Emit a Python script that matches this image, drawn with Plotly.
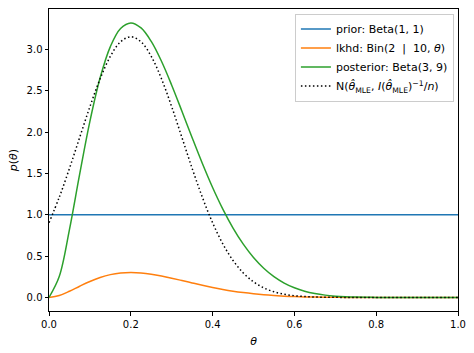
import plotly.graph_objects as go

theta = [round(i * 0.025, 3) for i in range(41)]

prior = [1.0] * 41

likelihood = [0.0, 0.02297, 0.07464, 0.13567, 0.19371, 0.24160, 0.27590, 0.29576, 0.30199,
              0.29645, 0.28157, 0.25974, 0.23347, 0.20482, 0.17565, 0.14734, 0.12093,
              0.09712, 0.07630, 0.05860, 0.04395, 0.03214, 0.02289, 0.01584, 0.01062,
              0.006874, 0.004281, 0.002552, 0.001447, 0.000774, 0.000386, 0.000178,
              0.0000737, 0.000027, 0.0000083, 0.000002, 0.0, 0.0, 0.0, 0.0, 0.0]

posterior = [0.0, 0.25266, 0.8210, 1.4923, 2.1308, 2.6576, 3.0349, 3.2533, 3.3219,
             3.2610, 3.0972, 2.8572, 2.5682, 2.2530, 1.9322, 1.6207, 1.3303,
             1.0684, 0.8393, 0.6446, 0.4834, 0.3536, 0.2518, 0.1742, 0.1168,
             0.07562, 0.04710, 0.02807, 0.01591, 0.00851, 0.00425, 0.00195,
             0.000811, 0.000296, 0.0000917, 0.0000226, 0.0, 0.0, 0.0, 0.0, 0.0]

normal_approx = [0.9036, 1.2111, 1.5613, 1.9356, 2.3074, 2.6455, 2.9169, 3.0929, 3.1539,
                 3.0929, 2.9169, 2.6455, 2.3074, 1.9356, 1.5613, 1.2111, 0.9036,
                 0.6483, 0.4473, 0.2968, 0.1894, 0.1162, 0.0686, 0.0389, 0.02125,
                 0.01116, 0.00563, 0.00273, 0.00128, 0.00057, 0.00025, 0.0001,
                 0.00004, 0.0, 0.0, 0.0, 0.0, 0.0, 0.0, 0.0, 0.0]

names = ["prior: Beta(1, 1)",
         "lkhd: Bin(2  |  10, <i>θ</i>)",
         "posterior: Beta(3, 9)",
         "N(<i>θ̂</i><sub>MLE</sub>, <i>I</i>(<i>θ̂</i><sub>MLE</sub>)<sup>−1</sup>/<i>n</i>)"]

fig = go.Figure()
fig.add_trace(go.Scatter(x=theta, y=prior, mode="lines", name=names[0],
                         line=dict(color="#1f77b4", width=1.5)))
fig.add_trace(go.Scatter(x=theta, y=likelihood, mode="lines", name=names[1],
                         line=dict(color="#ff7f0e", width=1.5, shape="spline")))
fig.add_trace(go.Scatter(x=theta, y=posterior, mode="lines", name=names[2],
                         line=dict(color="#2ca02c", width=1.5, shape="spline")))
fig.add_trace(go.Scatter(x=theta, y=normal_approx, mode="lines", name=names[3],
                         line=dict(color="black", width=1.5, dash="1.5px,2.5px", shape="spline")))

axis_common = dict(showline=True, linecolor="black", linewidth=1, mirror=True,
                   ticks="outside", ticklen=3.5, tickwidth=1, tickcolor="black",
                   showgrid=False, zeroline=False,
                   tickfont=dict(family="DejaVu Sans", size=10, color="black"))

fig.update_layout(
    width=474, height=353,
    margin=dict(l=49, r=16, t=8, b=41),
    plot_bgcolor="white", paper_bgcolor="white",
    font=dict(family="DejaVu Sans", size=10, color="black"),
    xaxis=dict(range=[0, 1], tickvals=[0, 0.2, 0.4, 0.6, 0.8, 1.0], tickformat=".1f",
               title=dict(text="<i>θ</i>", standoff=8, font=dict(size=11)), **axis_common),
    yaxis=dict(range=[-0.164, 3.49], tickvals=[0, 0.5, 1, 1.5, 2, 2.5, 3], tickformat=".1f",
               title=dict(text="<i>p</i>(<i>θ</i>)", standoff=6, font=dict(size=11)), **axis_common),
    legend=dict(x=0.99, y=0.985, xanchor="right", yanchor="top",
                bgcolor="rgba(255,255,255,0.8)", bordercolor="#cccccc", borderwidth=1,
                font=dict(family="DejaVu Sans", size=11), tracegroupgap=0, itemwidth=30),
    showlegend=True,
)

fig.write_html("out.html")
